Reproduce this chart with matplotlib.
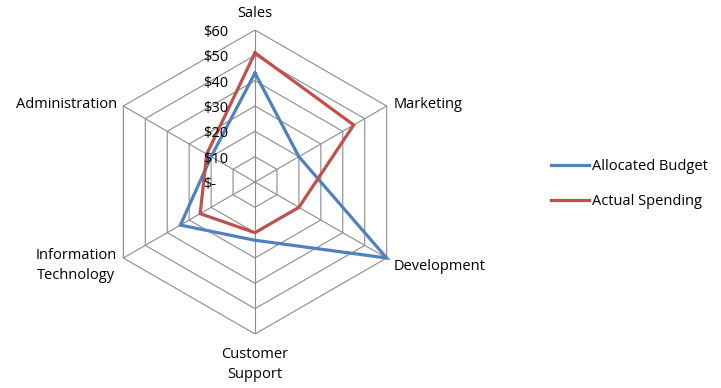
import numpy as np
import matplotlib
matplotlib.use("Agg")
from matplotlib import pyplot as plt

categories = ["Sales", "Marketing", "Development", "Customer\nSupport",
              "Information\nTechnology", "Administration"]
allocated_budget = [43, 20, 60, 23, 34, 20]
actual_spending = [51, 45, 20, 20, 25, 22]
ring_values = [10, 20, 30, 40, 50, 60]
tick_labels = ["$-", "$10", "$20", "$30", "$40", "$50", "$60"]
series_names = ["Allocated Budget", "Actual Spending"]

blue = "#4F81BD"
red = "#C0504D"
grid_gray = "#8C8C8C"

plt.rcParams['font.family'] = ['Open Sans', 'DejaVu Sans']

n = len(categories)
angles = np.arange(n) * 2 * np.pi / n  # clockwise from top


def to_xy(values):
    v = np.asarray(values, dtype=float)
    v = np.append(v, v[0])
    a = np.append(angles, angles[0])
    return v * np.sin(a), v * np.cos(a)


fig = plt.figure(figsize=(7.21, 3.88), dpi=100)
ax = fig.add_axes([103 / 721, 54 / 388, 304 / 721, 304 / 388])
ax.set_xlim(-60, 60)
ax.set_ylim(-60, 60)
ax.set_aspect('equal')
ax.axis('off')

# hexagon rings and spokes
for rv in ring_values:
    gx, gy = to_xy([rv] * n)
    ax.plot(gx, gy, color=grid_gray, lw=0.8, zorder=1)
for a in angles:
    ax.plot([0, 60 * np.sin(a)], [0, 60 * np.cos(a)], color=grid_gray, lw=0.8, zorder=1)

# series
bx, by = to_xy(allocated_budget)
rx, ry = to_xy(actual_spending)
ax.plot(bx, by, color=blue, lw=2.3, label=series_names[0], zorder=3,
        solid_joinstyle='miter')
ax.plot(rx, ry, color=red, lw=2.3, label=series_names[1], zorder=3,
        solid_joinstyle='miter')

# value labels along the Sales axis
for i, t in enumerate(tick_labels):
    ax.text(-20.3, i * 10 - 1, t, ha='left', va='center', fontsize=10.5,
            clip_on=False, zorder=4)

# category labels
lab_r = 63
aligns = [('center', 'bottom'), ('left', 'center'), ('left', 'center'),
          ('center', 'top'), ('right', 'center'), ('right', 'center')]
for cat, a, (ha, va) in zip(categories, angles, aligns):
    x = lab_r * np.sin(a)
    y = lab_r * np.cos(a)
    if cat == "Sales":
        y += 0.5
    if va == 'top':
        y -= 2
    if cat in ("Marketing", "Administration"):
        y -= 0.8
    if cat.startswith("Development"):
        y -= 1.8
    if cat.startswith("Information"):
        y -= 1.5
    ax.text(x, y, cat, ha=ha, va=va, fontsize=10.5, linespacing=1.5,
            multialignment='center', clip_on=False)

fig.legend(loc='center left', bbox_to_anchor=(545 / 721, 1 - 184 / 388),
           frameon=False, fontsize=10.5, handlelength=2.6, handletextpad=0.25,
           labelspacing=1.4, borderaxespad=0)

fig.savefig("out.png", dpi=100)
